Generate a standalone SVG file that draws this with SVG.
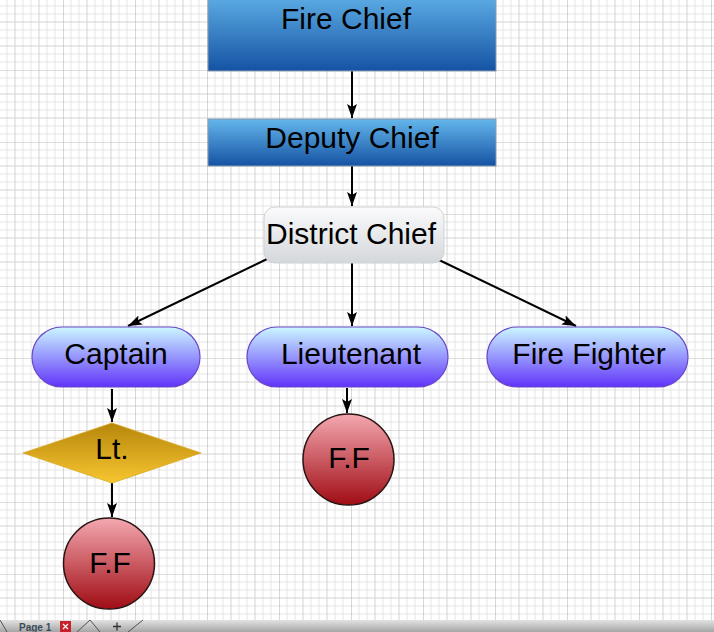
<svg xmlns="http://www.w3.org/2000/svg" width="714" height="632" viewBox="0 0 714 632">
<defs>
<pattern id="grid" patternUnits="userSpaceOnUse" x="-9" y="-2" width="72" height="72">
<path d="M8,0V72M16,0V72M32,0V72M40,0V72M56,0V72M64,0V72M0,8H72M0,16H72M0,32H72M0,40H72M0,56H72M0,64H72" stroke="#e6e6e6" stroke-width="1" fill="none"/>
<path d="M24,0V72M48,0V72M0,24H72M0,48H72" stroke="#d3d3d3" stroke-width="1" fill="none"/>
<path d="M0,0V72M0,0H72" stroke="#bdbdbd" stroke-width="1.2" fill="none"/>
</pattern>
<linearGradient id="blue" x1="0" y1="0" x2="0" y2="1"><stop offset="0" stop-color="#64b6ec"/><stop offset="1" stop-color="#1553a3"/></linearGradient>
<linearGradient id="grey" x1="0" y1="0" x2="0" y2="1"><stop offset="0" stop-color="#fbfbfc"/><stop offset="1" stop-color="#d4d7db"/></linearGradient>
<linearGradient id="pill" x1="0" y1="0" x2="0" y2="1"><stop offset="0" stop-color="#cbf7ff"/><stop offset="1" stop-color="#6133fa"/></linearGradient>
<linearGradient id="gold" x1="0" y1="0" x2="0" y2="1"><stop offset="0" stop-color="#b6860c"/><stop offset="1" stop-color="#f8c630"/></linearGradient>
<linearGradient id="red" x1="0" y1="0" x2="0" y2="1"><stop offset="0" stop-color="#f4a8b0"/><stop offset="1" stop-color="#a00c14"/></linearGradient>
<linearGradient id="bar" x1="0" y1="0" x2="0" y2="1"><stop offset="0" stop-color="#e2e2e2"/><stop offset="1" stop-color="#a6a6a6"/></linearGradient>
<marker id="arr" markerUnits="userSpaceOnUse" markerWidth="15" markerHeight="11" refX="14" refY="5" orient="auto"><path d="M0,0L14,5L0,10L3,5z" fill="#000"/></marker>
<style>
.t{font-family:"Liberation Sans",Arial,sans-serif;font-size:30px;fill:#000;text-anchor:middle}
.rect{fill:url(#blue);stroke:#8a9aac;stroke-width:1}
.pill{fill:url(#pill);stroke:#6a46c6;stroke-width:1.2}
.circ{fill:url(#red);stroke:#2a1414;stroke-width:1.5}
.c{stroke:#000;stroke-width:2;fill:none;marker-end:url(#arr)}
</style>
</defs>
<rect width="714" height="632" fill="#fff"/>
<rect width="714" height="620" fill="url(#grid)"/>
<g id="connectors">
<line class="c" x1="352" y1="71" x2="352" y2="118"/>
<line class="c" x1="352" y1="166" x2="352" y2="206"/>
<line class="c" x1="267" y1="259" x2="128" y2="326"/>
<line class="c" x1="352" y1="263" x2="352" y2="326"/>
<line class="c" x1="437" y1="259" x2="576" y2="326"/>
<line class="c" x1="112" y1="389" x2="112" y2="422"/>
<line class="c" x1="347" y1="388" x2="347" y2="413"/>
<line class="c" x1="112" y1="483" x2="112" y2="517"/>
</g>
<g id="fire-chief"><rect class="rect" x="208" y="-12" width="288" height="83"/><text class="t" x="346" y="29">Fire Chief</text></g>
<g id="deputy-chief"><rect class="rect" x="208" y="119" width="288" height="47"/><text class="t" x="352" y="148">Deputy Chief</text></g>
<g id="district-chief"><rect x="264" y="207" width="180" height="56" rx="11" fill="url(#grey)" stroke="#cfd2d6" stroke-width="1"/><text class="t" x="351" y="244">District Chief</text></g>
<g id="captain"><rect class="pill" x="32" y="327" width="168" height="60" rx="30"/><text class="t" x="116" y="364">Captain</text></g>
<g id="lieutenant"><rect class="pill" x="247" y="327" width="201" height="60" rx="30"/><text class="t" x="351" y="364">Lieutenant</text></g>
<g id="fire-fighter"><rect class="pill" x="487" y="327" width="201" height="60" rx="30"/><text class="t" x="589" y="364">Fire Fighter</text></g>
<g id="lt"><polygon points="112,423 201,453 112,483 23,453" fill="url(#gold)" stroke="#d9a820" stroke-width="0.8"/><text class="t" x="112" y="459">Lt.</text></g>
<g id="ff-lieutenant"><circle class="circ" cx="348.5" cy="459.5" r="45.5"/><text class="t" x="349" y="468">F.F</text></g>
<g id="ff-lt"><circle class="circ" cx="109" cy="563.5" r="45.5"/><text class="t" x="110" y="573">F.F</text></g>
<g id="tabbar">
<rect x="0" y="620" width="714" height="12" fill="url(#bar)"/>
<path d="M0,620L7,632M77,632L90,620M90,620L100,632M128,632L143,620" stroke="#505050" stroke-width="1" fill="none"/>
<text x="19" y="631" font-family="Liberation Sans,Arial,sans-serif" font-size="10" font-weight="bold" fill="#3a4a5a">Page 1</text>
<rect x="60" y="621" width="11" height="11" fill="#c8202a"/>
<path d="M63,624L68,629M68,624L63,629" stroke="#fff" stroke-width="1.2"/>
<path d="M113,626.5H121M117,622.5V630.5" stroke="#333" stroke-width="1.3"/>
</g>
</svg>
